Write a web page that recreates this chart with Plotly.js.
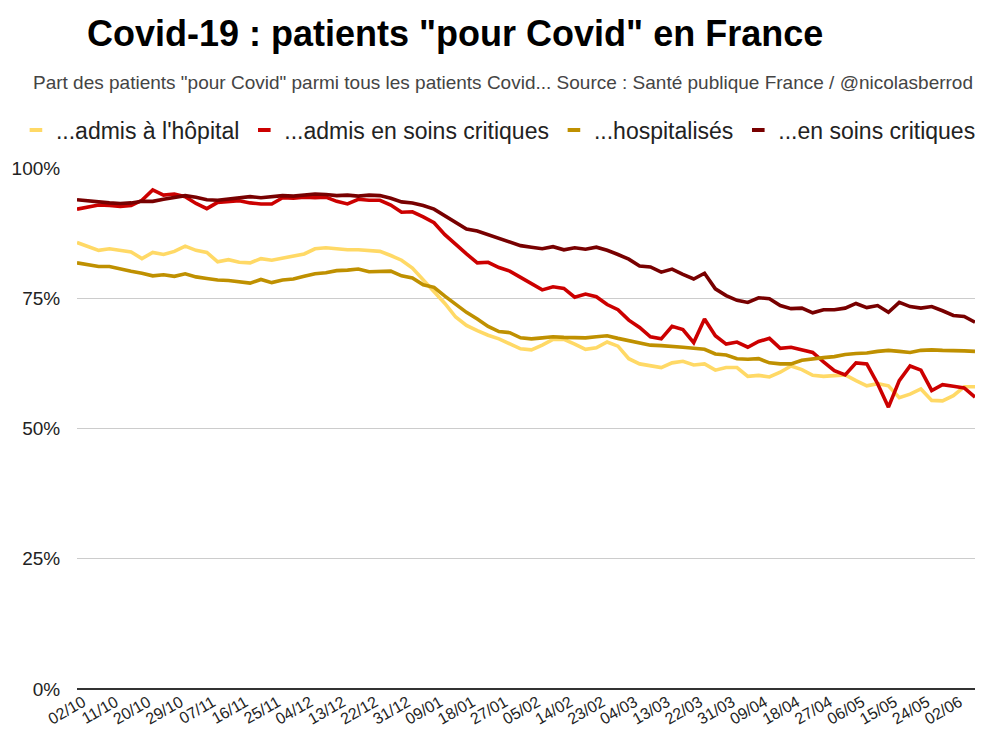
<!DOCTYPE html>
<html>
<head>
<meta charset="utf-8">
<script src="https://cdn.plot.ly/plotly-3.0.1.min.js"></script>
<style>
  html, body { margin: 0; padding: 0; background: #fff; }
  #chart { width: 995px; height: 739px; }
</style>
</head>
<body>
<div id="chart"></div>
<script>
// one point every 3 days, 02/10/2021 -> 08/06/2022
const dates = [
  '2021-10-02','2021-10-05','2021-10-08','2021-10-11','2021-10-14','2021-10-17','2021-10-20','2021-10-23','2021-10-26','2021-10-29',
  '2021-11-01','2021-11-04','2021-11-07','2021-11-10','2021-11-13','2021-11-16','2021-11-19','2021-11-22','2021-11-25','2021-11-28',
  '2021-12-01','2021-12-04','2021-12-07','2021-12-10','2021-12-13','2021-12-16','2021-12-19','2021-12-22','2021-12-25','2021-12-28','2021-12-31',
  '2022-01-03','2022-01-06','2022-01-09','2022-01-12','2022-01-15','2022-01-18','2022-01-21','2022-01-24','2022-01-27','2022-01-30',
  '2022-02-02','2022-02-05','2022-02-08','2022-02-11','2022-02-14','2022-02-17','2022-02-20','2022-02-23','2022-02-26',
  '2022-03-01','2022-03-04','2022-03-07','2022-03-10','2022-03-13','2022-03-16','2022-03-19','2022-03-22','2022-03-25','2022-03-28','2022-03-31',
  '2022-04-03','2022-04-06','2022-04-09','2022-04-12','2022-04-15','2022-04-18','2022-04-21','2022-04-24','2022-04-27','2022-04-30',
  '2022-05-03','2022-05-06','2022-05-09','2022-05-12','2022-05-15','2022-05-18','2022-05-21','2022-05-24','2022-05-27','2022-05-30',
  '2022-06-02','2022-06-05','2022-06-08'
];

const admisHopital = [
  85.7, 84.9, 84.2, 84.5, 84.2, 83.9, 82.6, 83.8, 83.4, 84.0,
  85.0, 84.2, 83.8, 82.0, 82.4, 81.9, 81.8, 82.6, 82.3, 82.7,
  83.2, 83.5, 84.5, 84.7, 84.5, 84.3, 84.3, 84.2, 84.0, 83.2, 82.3,
  80.8, 78.6, 76.4, 74.0, 71.4, 69.8, 68.8, 67.9, 67.2, 66.3,
  65.3, 65.1, 66.0, 67.1, 67.1, 66.2, 65.2, 65.5, 66.6,
  65.8, 63.4, 62.4, 62.0, 61.7, 62.6, 62.9, 62.2, 62.4, 61.2, 61.7,
  61.7, 60.0, 60.2, 59.9, 60.8, 62.0, 61.3, 60.2, 60.0, 60.2,
  60.3, 59.2, 58.2, 58.6, 58.2, 55.9, 56.6, 57.6, 55.4, 55.3,
  56.3, 58.0, 58.0
];

const admisSoinsCritiques = [
  92.1, 92.5, 92.9, 92.8, 92.6, 92.8, 93.8, 95.8, 94.8, 95.0,
  94.5, 93.2, 92.2, 93.4, 93.6, 93.7, 93.3, 93.1, 93.1, 94.3,
  94.2, 94.4, 94.3, 94.4, 93.6, 93.1, 94.0, 93.8, 93.8, 92.9, 91.5,
  91.6, 90.6, 89.5, 87.2, 85.3, 83.5, 81.8, 81.9, 80.9, 80.2,
  79.0, 77.8, 76.6, 77.2, 76.9, 75.2, 75.8, 75.3, 73.8,
  72.8, 70.8, 69.4, 67.6, 67.2, 69.6, 69.0, 66.5, 71.0, 67.8, 66.2,
  66.6, 65.6, 66.7, 67.3, 65.4, 65.6, 65.1, 64.6, 62.8, 61.1,
  60.3, 62.6, 62.4, 58.6, 54.1, 59.2, 62.0, 61.2, 57.3, 58.4,
  58.1, 57.8, 56.0
];

const hospitalises = [
  81.8, 81.4, 81.1, 81.1, 80.6, 80.2, 79.8, 79.3, 79.5, 79.2,
  79.7, 79.1, 78.8, 78.5, 78.4, 78.2, 77.9, 78.6, 78.0, 78.5,
  78.7, 79.2, 79.7, 79.9, 80.3, 80.4, 80.6, 80.1, 80.2, 80.2, 79.3,
  78.9, 77.6, 77.1, 75.4, 73.8, 72.3, 71.0, 69.6, 68.6, 68.4,
  67.4, 67.2, 67.4, 67.6, 67.5, 67.4, 67.4, 67.6, 67.8,
  67.3, 66.9, 66.4, 66.0, 65.9, 65.8, 65.6, 65.4, 65.2, 64.3, 64.1,
  63.4, 63.3, 63.4, 62.6, 62.4, 62.4, 63.1, 63.4, 63.6, 63.8,
  64.2, 64.4, 64.5, 64.8, 65.0, 64.8, 64.6, 65.0, 65.1, 65.0,
  65.0, 64.9, 64.8
];

const enSoinsCritiques = [
  93.9, 93.7, 93.4, 93.3, 93.2, 93.3, 93.6, 93.6, 94.0, 94.3,
  94.7, 94.4, 93.9, 93.8, 94.0, 94.2, 94.5, 94.3, 94.5, 94.7,
  94.6, 94.8, 95.0, 94.9, 94.7, 94.8, 94.6, 94.8, 94.7, 94.2, 93.5,
  93.3, 92.8, 92.1, 90.8, 89.6, 88.3, 87.9, 87.2, 86.6, 85.9,
  85.1, 84.8, 84.5, 84.9, 84.3, 84.7, 84.4, 84.8, 84.2,
  83.4, 82.5, 81.2, 81.0, 80.0, 80.6, 79.6, 78.7, 79.8, 76.8, 75.5,
  74.6, 74.2, 75.1, 74.9, 73.6, 73.0, 73.1, 72.2, 72.8, 72.8,
  73.1, 74.0, 73.2, 73.6, 72.3, 74.2, 73.4, 73.1, 73.4, 72.6,
  71.7, 71.5, 70.4
];

const tickDates = [
  '2021-10-02','2021-10-11','2021-10-20','2021-10-29','2021-11-07','2021-11-16','2021-11-25',
  '2021-12-04','2021-12-13','2021-12-22','2021-12-31','2022-01-09','2022-01-18','2022-01-27',
  '2022-02-05','2022-02-14','2022-02-23','2022-03-04','2022-03-13','2022-03-22','2022-03-31',
  '2022-04-09','2022-04-18','2022-04-27','2022-05-06','2022-05-15','2022-05-24','2022-06-02'
];
const tickLabels = [
  '02/10','11/10','20/10','29/10','07/11','16/11','25/11',
  '04/12','13/12','22/12','31/12','09/01','18/01','27/01',
  '05/02','14/02','23/02','04/03','13/03','22/03','31/03',
  '09/04','18/04','27/04','06/05','15/05','24/05','02/06'
];
const yTicks = [0, 25, 50, 75, 100];
const yTickLabels = ['0%', '25%', '50%', '75%', '100%'];

const seriesNames = ["...admis à l'hôpital", '...admis en soins critiques', '...hospitalisés', '...en soins critiques'];
const seriesValues = [admisHopital, admisSoinsCritiques, hospitalises, enSoinsCritiques];
const colors = ['#ffd966', '#cc0000', '#bf9000', '#780000'];

const FONT = 'Liberation Sans, Arial, sans-serif';

// the lines themselves
let traces = seriesValues.map((vals, i) => ({
  type: 'scatter',
  mode: 'lines',
  x: dates,
  y: vals,
  name: seriesNames[i],
  line: { color: colors[i], width: 3.6 },
  showlegend: false,
  hoverinfo: 'x+y+name',
}));

// short dash legend entries, like the original
traces = traces.concat(seriesNames.map((name, i) => ({
  type: 'scatter',
  mode: 'markers',
  x: [null],
  y: [null],
  name: name,
  marker: { symbol: 'line-ew', size: 9, line: { color: colors[i], width: 4 } },
})));

const layout = {
  width: 995,
  height: 739,
  paper_bgcolor: '#fff',
  plot_bgcolor: '#fff',
  font: { family: FONT, color: '#222' },
  margin: { l: 77, r: 20, t: 168, b: 50, pad: 0 },
  title: {
    text: '<b>Covid-19 : patients "pour Covid" en France</b>',
    font: { family: FONT, size: 36, color: '#000' },
    xref: 'container', x: 87 / 995, xanchor: 'left',
    yref: 'container', y: 1 - 33 / 739, yanchor: 'middle',
  },
  annotations: [{
    text: 'Part des patients "pour Covid" parmi tous les patients Covid... Source : Santé publique France / @nicolasberrod',
    xref: 'paper', yref: 'paper', x: 1, y: 1.165,
    xanchor: 'right', yanchor: 'middle', showarrow: false,
    font: { family: FONT, size: 19, color: '#444' },
  }],
  showlegend: true,
  legend: {
    orientation: 'h',
    x: -0.068, xanchor: 'left',
    y: 1.073, yanchor: 'middle',
    font: { family: FONT, size: 23, color: '#222' },
    itemwidth: 30,
    tracegroupgap: 0,
  },
  xaxis: {
    type: 'date',
    range: ['2021-10-02', '2022-06-08'],
    tickmode: 'array',
    tickvals: tickDates,
    ticktext: tickLabels,
    tickangle: -30,
    ticklabelshift: 6,
    tickfont: { family: FONT, size: 16, color: '#222' },
    showgrid: false,
    zeroline: false,
    showline: false,
    ticks: '',
  },
  yaxis: {
    range: [0, 100],
    tickmode: 'array',
    tickvals: yTicks,
    ticktext: yTickLabels,
    tickfont: { family: FONT, size: 19, color: '#222' },
    showgrid: true,
    gridcolor: '#cccccc',
    gridwidth: 1,
    zeroline: true,
    zerolinecolor: '#333333',
    zerolinewidth: 1.5,
    ticks: 'outside',
    ticklen: 12,
    tickcolor: 'rgba(0,0,0,0)',
  },
};

Plotly.newPlot('chart', traces, layout, { displayModeBar: false, staticPlot: true });
</script>
</body>
</html>
